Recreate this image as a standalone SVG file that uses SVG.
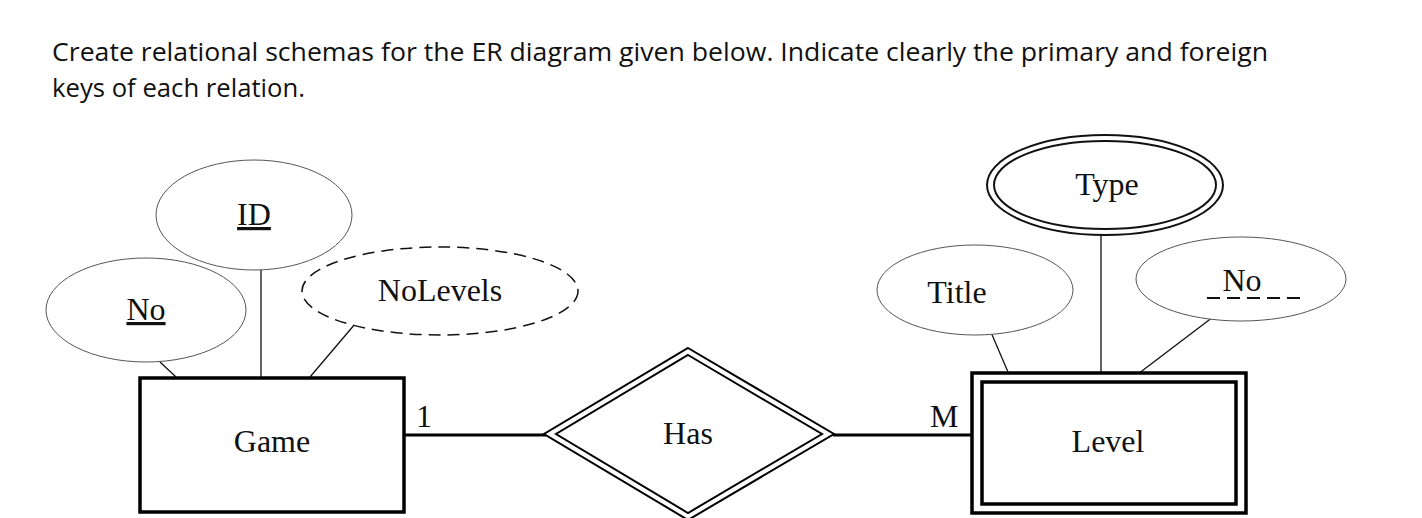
<svg xmlns="http://www.w3.org/2000/svg" width="1422" height="518" viewBox="0 0 1422 518">
<style>
.t{font-family:"Liberation Serif",serif;font-size:32px;fill:#111}
.h{font-family:"Open Sans","Liberation Sans",sans-serif;font-size:25px;fill:#111}
.e{fill:#fff;stroke:#555;stroke-width:1}
.l{stroke:#111;stroke-width:1.3;fill:none}
.b{stroke:#000;stroke-width:3;fill:none}
</style>
<rect width="1422" height="518" fill="#fff"/>
<text class="h" x="52" y="61" textLength="1216" lengthAdjust="spacingAndGlyphs">Create relational schemas for the ER diagram given below.  Indicate clearly the primary and foreign</text>
<text class="h" x="52" y="97" textLength="253" lengthAdjust="spacingAndGlyphs">keys of each relation.</text>
<g id="connectors">
<line class="l" x1="160" y1="362" x2="176" y2="377"/>
<line class="l" x1="261" y1="270" x2="261" y2="377"/>
<line class="l" x1="355" y1="324" x2="310" y2="377"/>
<line class="l" x1="990" y1="330" x2="1008" y2="372"/>
<line class="l" x1="1101" y1="235" x2="1101" y2="377"/>
<line class="l" x1="1213" y1="317" x2="1134" y2="377"/>
<line class="b" x1="404" y1="435" x2="546" y2="435"/>
<line class="b" x1="833" y1="435" x2="972" y2="435"/>
<text class="t" x="416" y="427">1</text>
<text class="t" x="930" y="427">M</text>
</g>
<g id="No"><ellipse class="e" cx="146" cy="310" rx="100" ry="52"/><text class="t" x="146" y="320" text-anchor="middle" text-decoration="underline">No</text></g>
<g id="ID"><ellipse class="e" cx="254" cy="215" rx="98" ry="55"/><text class="t" x="254" y="225" text-anchor="middle" text-decoration="underline">ID</text></g>
<g id="NoLevels"><ellipse cx="440" cy="291" rx="138" ry="44" fill="#fff" stroke="#111" stroke-width="1.5" stroke-dasharray="12,7"/><text class="t" x="440" y="301" text-anchor="middle">NoLevels</text></g>
<g id="Game"><rect x="140" y="378" width="264" height="134" fill="#fff" stroke="#000" stroke-width="3.5"/><text class="t" x="272" y="452" text-anchor="middle">Game</text></g>
<g id="Has"><polygon points="688,348 834,434 688,520 544,434" fill="#fff" stroke="#000" stroke-width="2"/><polygon points="688,355 822,434 688,513 556,434" fill="none" stroke="#000" stroke-width="2"/><text class="t" x="688" y="444" text-anchor="middle" font-size="28">Has</text></g>
<g id="Title"><ellipse class="e" cx="975" cy="290" rx="98" ry="45"/><text class="t" x="957" y="303" text-anchor="middle">Title</text></g>
<g id="Type"><ellipse cx="1105" cy="185" rx="118" ry="50" fill="#fff" stroke="#111" stroke-width="2"/><ellipse cx="1105" cy="185" rx="111" ry="44" fill="none" stroke="#111" stroke-width="2"/><text class="t" x="1107" y="195" text-anchor="middle">Type</text></g>
<g id="No2"><ellipse class="e" cx="1241" cy="279" rx="105" ry="42"/><text class="t" x="1242" y="291" text-anchor="middle">No</text><line x1="1207" y1="298" x2="1300" y2="298" stroke="#111" stroke-width="2" stroke-dasharray="13,7"/></g>
<g id="Level"><rect x="972" y="373" width="274" height="140" fill="#fff" stroke="#000" stroke-width="3.5"/><rect x="982" y="382" width="254" height="122" fill="none" stroke="#000" stroke-width="3.5"/><text class="t" x="1108" y="452" text-anchor="middle">Level</text></g>
</svg>
